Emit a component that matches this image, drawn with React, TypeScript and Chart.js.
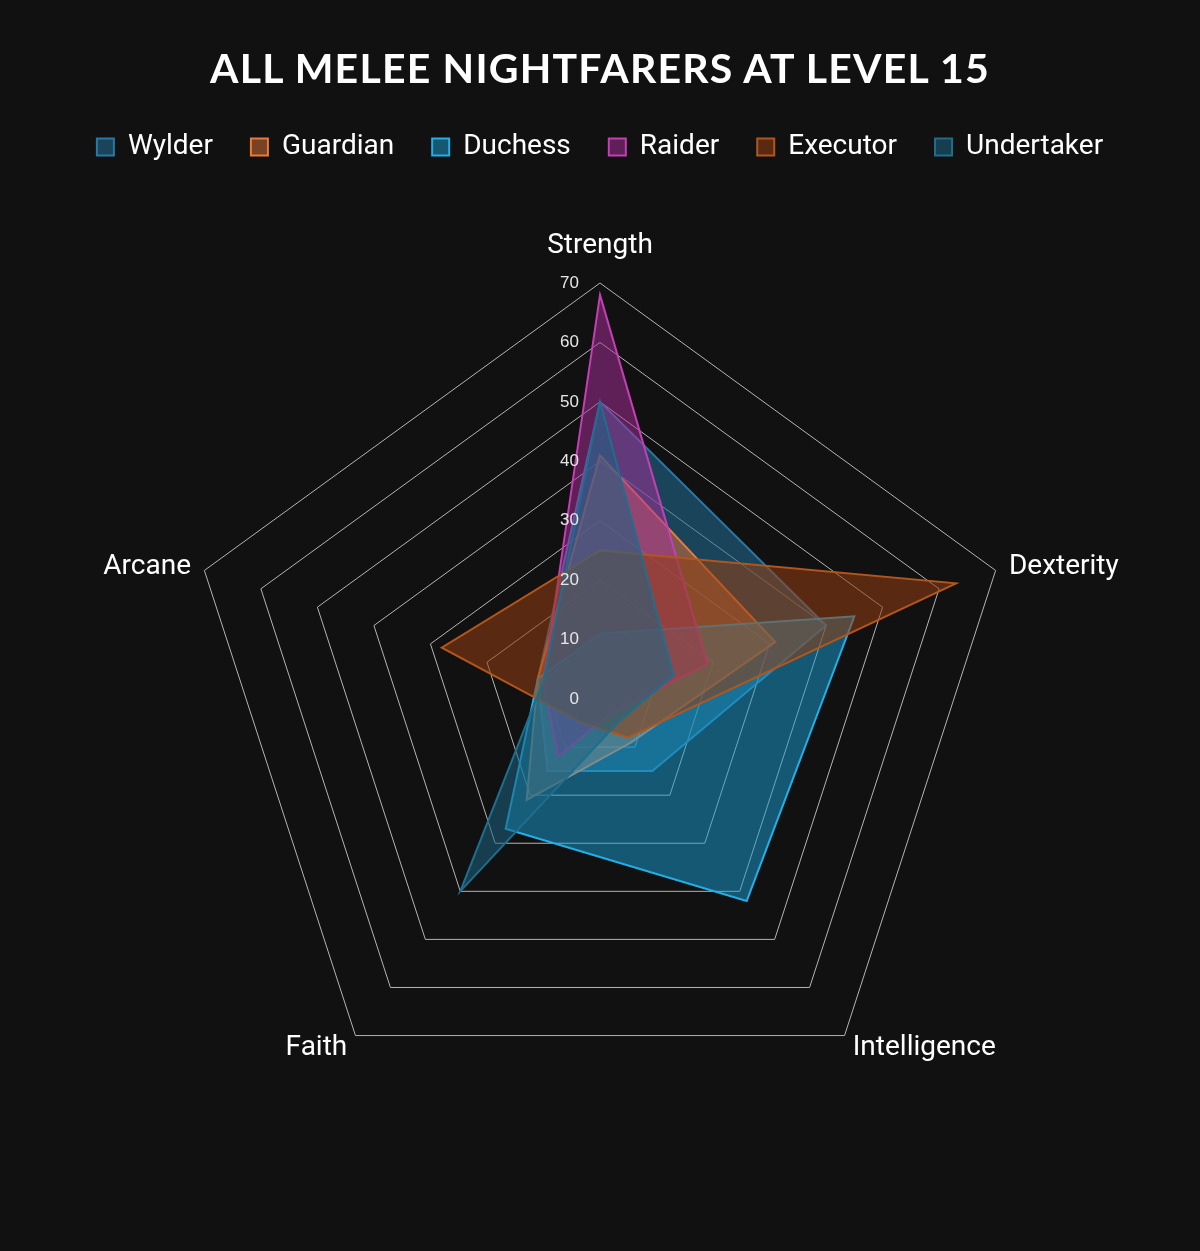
import { useEffect, useRef } from 'react';
import { Chart, registerables } from 'chart.js';

Chart.register(...registerables);

// stats on the radar axes, clockwise from the top
const STATS = ['Strength', 'Dexterity', 'Intelligence', 'Faith', 'Arcane'];
const NIGHTFARERS = ['Wylder', 'Guardian', 'Duchess', 'Raider', 'Executor', 'Undertaker'];

// values at level 15, same order as STATS
const WYLDER = [50, 40, 15, 15, 11];
const GUARDIAN = [41, 31, 9, 21, 11];
const DUCHESS = [11, 45, 42, 27, 11];
const RAIDER = [68, 19, 3, 12, 10];
const EXECUTOR = [25, 63, 8, 5, 28];
const UNDERTAKER = [50, 13, 5, 40, 10];

const SCALE_MIN = 0;
const SCALE_MAX = 70;
const SCALE_STEP = 10;

const VALUES = [WYLDER, GUARDIAN, DUCHESS, RAIDER, EXECUTOR, UNDERTAKER];

const BORDERS = ['#2a78a6', '#ea7a3a', '#24aee6', '#c23fb4', '#b3561d', '#1f6e8e'];
const FILLS = [
  'rgba(34,112,152,0.55)',
  'rgba(226,116,56,0.5)',
  'rgba(24,160,214,0.5)',
  'rgba(172,48,158,0.5)',
  'rgba(150,64,18,0.55)',
  'rgba(28,100,132,0.55)',
];

const BG = '#111111';

// tick values and axis names drawn by hand so they sit where the original has them
const radarText = {
  id: 'radarText',
  afterDatasetsDraw(chart: any) {
    const r = chart.scales.r;
    const ctx = chart.ctx as CanvasRenderingContext2D;
    ctx.save();
    ctx.fillStyle = '#e6e6e6';
    ctx.font = '17px "Liberation Sans", Arial, sans-serif';
    ctx.textAlign = 'right';
    ctx.textBaseline = 'middle';
    r.ticks.forEach((t: any) => {
      const d = r.getDistanceFromCenterForValue(t.value);
      ctx.fillText(String(t.value), r.xCenter - 21, r.yCenter - d);
    });

    ctx.font = '28px Roboto, "Noto Sans", sans-serif';
    ctx.fillStyle = '#ffffff';
    STATS.forEach((s, i) => {
      const pad = i === 0 ? 38 : 14;
      const p = r.getPointPosition(i, r.drawingArea + pad);
      const dx = p.x - r.xCenter;
      ctx.textAlign = Math.abs(dx) < 1 ? 'center' : dx > 0 ? 'left' : 'right';
      ctx.fillText(s, p.x, p.y + 1);
    });
    ctx.restore();
  },
};

function NightfarerRadar() {
  const canvasRef = useRef<HTMLCanvasElement>(null);
  const chartRef = useRef<Chart | null>(null);

  useEffect(() => {
    if (!canvasRef.current) return;
    chartRef.current?.destroy();
    chartRef.current = new Chart(canvasRef.current, {
      type: 'radar',
      data: {
        labels: STATS,
        datasets: NIGHTFARERS.map((name, i) => ({
          label: name,
          data: VALUES[i],
          borderColor: BORDERS[i],
          backgroundColor: FILLS[i],
          borderWidth: 2,
          pointRadius: 0,
          pointHoverRadius: 0,
          fill: true,
          clip: false as any,
          // later series on top, like the source
          order: NIGHTFARERS.length - i,
        })),
      },
      options: {
        responsive: true,
        maintainAspectRatio: false,
        animation: false,
        layout: { padding: { top: 95 } },
        plugins: {
          legend: {
            position: 'top',
            labels: {
              color: '#ffffff',
              font: { family: 'Roboto, "Noto Sans", sans-serif', size: 28 },
              boxWidth: 17,
              boxHeight: 17,
              padding: 38,
              sort: (a, b) => (a.datasetIndex ?? 0) - (b.datasetIndex ?? 0),
            },
          },
          tooltip: { enabled: false },
          title: { display: false },
        },
        scales: {
          r: {
            min: SCALE_MIN,
            max: SCALE_MAX,
            ticks: { stepSize: SCALE_STEP, display: false },
            grid: { color: '#b4b4b4', lineWidth: 1 },
            angleLines: { display: false },
            pointLabels: { display: false },
            afterFit: (s: any) => {
              s.xCenter = Math.round(s.chart.width / 2);
              s.yCenter = 699;
              s.drawingArea = 416;
            },
          },
        },
      },
      plugins: [radarText],
    });
    return () => {
      chartRef.current?.destroy();
      chartRef.current = null;
    };
  }, []);

  return (
    <div style={{ position: 'absolute', left: 0, top: 0, width: 1200, height: 1251, background: BG }}>
      <div
        style={{
          position: 'absolute',
          top: 43,
          left: 0,
          width: 1200,
          textAlign: 'center',
          color: '#ffffff',
          fontFamily: 'Lato, Roboto, sans-serif',
          fontWeight: 700,
          fontSize: 41,
          lineHeight: '50px',
          letterSpacing: 1.2,
        }}
      >
        ALL MELEE NIGHTFARERS AT LEVEL 15
      </div>
      <canvas ref={canvasRef} />
    </div>
  );
}

export default function App() {
  useEffect(() => {
    document.body.style.margin = '0';
    document.body.style.background = BG;
  }, []);
  return <NightfarerRadar />;
}
